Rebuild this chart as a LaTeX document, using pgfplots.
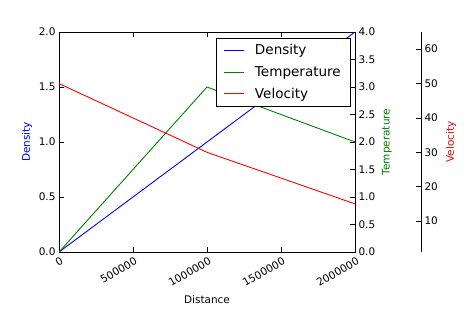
\documentclass[border=0pt]{standalone}
\usepackage{fontspec}
\setmainfont{DejaVu Sans}
\usepackage{pgfplots}
\pgfplotsset{compat=1.18}
\definecolor{mgreen}{rgb}{0,0.5,0}
\newcommand{\tfont}{\fontsize{10.5}{12}\selectfont}
\newcommand{\lfont}{\fontsize{13.6}{15}\selectfont}
\pgfplotsset{
  base/.style={
    at={(59bp,64bp)}, anchor=south west,
    width=296bp, height=220bp, scale only axis,
    xmin=0, xmax=2000000,
    /pgf/number format/assume math mode=true,
    tick label style={font=\tfont},
    label style={font=\tfont},
    major tick length=5bp,
    tick style={black, line width=0.6bp},
    axis line style={black, line width=0.8bp},
    yticklabel style={/pgf/number format/fixed, /pgf/number format/fixed zerofill, /pgf/number format/precision=1},
  }
}
\begin{document}
\begin{tikzpicture}
\useasboundingbox (0,0) rectangle (474bp,316bp);
% velocity spine
\begin{axis}[base,
  at={(125bp,64bp)},
  axis y line*=right, hide x axis,
  ymin=1, ymax=65,
  ytick={10,20,30,40,50,60},
  yticklabel style={/pgf/number format/precision=0, /pgf/number format/fixed zerofill=false},
  ylabel={Velocity}, ylabel style={red, at={(axis description cs:1.101,0.5)}, anchor=center},
]
\addplot[draw=none, forget plot] coordinates {(0,1) (2000000,1)};
\end{axis}
% host
\begin{axis}[base,
  ymin=0, ymax=2,
  ytick={0,0.5,1,1.5,2},
  xtick={0,500000,1000000,1500000,2000000},
  scaled x ticks=false,
  xticklabel style={/pgf/number format/fixed, /pgf/number format/1000 sep={}, rotate=30, anchor=north east, xshift=2bp, yshift=-1bp},
  ytick pos=left, xtick pos=both,
  xlabel={Distance}, xlabel style={at={(axis description cs:0.5,-0.218)}, anchor=center},
  ylabel={Density}, ylabel style={blue, at={(axis description cs:-0.108,0.5)}, anchor=center},
]
\addplot[blue, line width=0.9bp] coordinates {(0,0) (1000000,1) (2000000,2)};
\end{axis}
% temperature
\begin{axis}[base,
  axis y line*=right, hide x axis,
  ymin=0, ymax=4,
  ytick={0,0.5,1,1.5,2,2.5,3,3.5,4},
  ylabel={Temperature}, ylabel style={mgreen, at={(axis description cs:1.108,0.5)}, anchor=center},
]
\addplot[mgreen, line width=0.9bp] coordinates {(0,0) (1000000,3) (2000000,2)};
\end{axis}
% velocity data + legend
\begin{axis}[base,
  hide axis,
  ymin=1, ymax=65,
  legend style={at={(1,1)}, anchor=north east, xshift=-5bp, yshift=-6bp,
    draw=black, fill=white, font=\lfont, inner xsep=7bp, inner ysep=4.5bp, row sep=6bp,
    cells={anchor=west}},
  legend image code/.code={\draw[#1, line width=0.9bp] (0bp,0bp) -- (20bp,0bp);},
]
\addlegendimage{blue}\addlegendentry{\hspace{9bp}Density}
\addlegendimage{mgreen}\addlegendentry{\hspace{9bp}Temperature}
\addlegendimage{red}\addlegendentry{\hspace{9bp}Velocity}
\addplot[red, line width=0.9bp, forget plot] coordinates {(0,50) (1000000,30) (2000000,15)};
\end{axis}
\end{tikzpicture}
\end{document}
